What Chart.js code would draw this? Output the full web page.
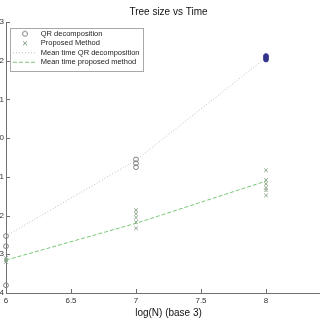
<!DOCTYPE html>
<html>
<head>
<meta charset="utf-8">
<script src="https://cdn.jsdelivr.net/npm/chart.js@4.4.1/dist/chart.umd.min.js"></script>
<style>
  html, body { margin: 0; padding: 0; width: 320px; height: 320px; overflow: hidden; background: #fff; }
  #wrap { position: absolute; left: -40px; top: 0; }
</style>
</head>
<body>
<div id="wrap"><canvas id="chart" width="380" height="320"></canvas></div>
<script>
// Positions sur l'axe x : log(N) en base 3
const treeSizes = [6, 7, 8];

// Mesures individuelles (une valeur x par mesure)
const qrRunX = [6, 6, 6, 7, 7, 7, 8, 8, 8];
const qrRunY = [-2.53, -2.79, -3.8, -0.55, -0.65, -0.75, 2.03, 2.08, 2.12];

const propRunX = [6, 6, 6, 7, 7, 7, 7, 7, 8, 8, 8, 8, 8, 8];
const propRunY = [-3.1, -3.15, -3.2, -1.86, -1.95, -2.05, -2.17, -2.33, -0.83, -1.08, -1.18, -1.28, -1.35, -1.48];

// Temps moyens par taille d'arbre
const meanQR = [-2.53, -0.57, 2.08];
const meanProposed = [-3.15, -2.2, -1.11];

const seriesLabels = [
  "QR decomposition",
  "Proposed Method",
  "Mean time QR decomposition",
  "Mean time proposed method",
];

// Couleurs
const qrColor = "#808080";
const qrLastColor = "#34348c";
const propColor = "#88a088";
const meanQRColor = "#bdbdbd";
const meanPropColor = "#78c878";
const axisColor = "#707070";
const font = "'Liberation Sans', Arial, sans-serif";

const meanQRDash = [1, 2];
const meanPropDash = [4, 2];

const toPoints = (xs, ys) => xs.map((x, i) => ({ x, y: ys[i] }));

// Petites icônes pour la légende (marqueurs centrés sur 24 px)
const makeIcon = (draw) => {
  const c = document.createElement("canvas");
  c.width = 24;
  c.height = 8;
  const g = c.getContext("2d");
  g.lineWidth = 1;
  draw(g);
  return c;
};
const circleIcon = makeIcon((g) => {
  g.strokeStyle = qrColor;
  g.beginPath();
  g.arc(12, 4, 2.5, 0, Math.PI * 2);
  g.stroke();
});
const crossIcon = makeIcon((g) => {
  g.strokeStyle = propColor;
  g.beginPath();
  g.moveTo(10, 2); g.lineTo(14, 6);
  g.moveTo(14, 2); g.lineTo(10, 6);
  g.stroke();
});

// Graduations vers l'intérieur + cadre de la légende
const matlabLook = {
  id: "matlabLook",
  afterLayout(chart) {
    const legend = chart.legend;
    legend.left = chart.chartArea.left + 5;
    legend.top = chart.chartArea.top + 6;
    legend.right = legend.left + legend.width;
    legend.bottom = legend.top + legend.height;
  },
  afterDraw(chart) {
    const { ctx, chartArea, scales } = chart;
    ctx.save();
    ctx.strokeStyle = axisColor;
    ctx.lineWidth = 1;
    ctx.beginPath();
    scales.x.ticks.forEach((t) => {
      const px = Math.round(scales.x.getPixelForValue(t.value)) + 0.5;
      ctx.moveTo(px, chartArea.bottom);
      ctx.lineTo(px, chartArea.bottom - 4);
    });
    scales.y.ticks.forEach((t) => {
      const py = Math.round(scales.y.getPixelForValue(t.value)) + 0.5;
      ctx.moveTo(chartArea.left, py);
      ctx.lineTo(chartArea.left + 4, py);
    });
    ctx.stroke();

    const legend = chart.legend;
    const boxes = legend.legendHitBoxes || [];
    let right = legend.left + 130;
    if (boxes.length) {
      right = Math.max(...boxes.map((b) => b.left + b.width)) + 3;
    }
    const left = legend.left - 1;
    const top = legend.top;
    const bottom = legend.top + 2 + seriesLabels.length * 9.5 + 3;
    ctx.strokeStyle = "#a8a8a8";
    ctx.strokeRect(Math.round(left) + 0.5, Math.round(top) + 0.5, Math.round(right - left), Math.round(bottom - top));
    ctx.restore();
  },
};

new Chart(document.getElementById("chart"), {
  type: "scatter",
  data: {
    datasets: [
      {
        label: seriesLabels[0],
        data: toPoints(qrRunX, qrRunY),
        pointStyle: "circle",
        pointRadius: 2.4,
        borderWidth: 1,
        pointBorderColor: (c) => (c.raw && c.raw.x === 8 ? qrLastColor : qrColor),
        pointBackgroundColor: (c) => (c.raw && c.raw.x === 8 ? qrLastColor : "rgba(0,0,0,0)"),
        clip: false,
      },
      {
        label: seriesLabels[1],
        data: toPoints(propRunX, propRunY),
        pointStyle: "crossRot",
        pointRadius: 2.5,
        borderWidth: 1,
        pointBorderColor: propColor,
        clip: false,
      },
      {
        label: seriesLabels[2],
        data: toPoints(treeSizes, meanQR),
        showLine: true,
        pointRadius: 0,
        pointStyle: "line",
        borderColor: meanQRColor,
        borderWidth: 1,
        borderDash: meanQRDash,
        clip: false,
      },
      {
        label: seriesLabels[3],
        data: toPoints(treeSizes, meanProposed),
        showLine: true,
        pointRadius: 0,
        pointStyle: "line",
        borderColor: meanPropColor,
        borderWidth: 1,
        borderDash: meanPropDash,
        clip: false,
      },
    ],
  },
  options: {
    responsive: false,
    animation: false,
    layout: { padding: { left: 0, right: 9, top: 0, bottom: 0 } },
    plugins: {
      title: {
        display: true,
        text: "Tree size vs Time",
        fullSize: false,
        color: "#111",
        font: { family: font, size: 10, weight: "normal" },
        padding: { top: 6, bottom: 4 },
      },
      legend: {
        position: "chartArea",
        align: "start",
        labels: {
          usePointStyle: true,
          pointStyleWidth: 24,
          padding: 2,
          color: "#222",
          font: { family: font, size: 7.5 },
          generateLabels: (chart) => {
            const items = Chart.defaults.plugins.legend.labels.generateLabels(chart);
            items[0].pointStyle = circleIcon;
            items[1].pointStyle = crossIcon;
            items[2].lineDash = meanQRDash;
            items[2].strokeStyle = meanQRColor;
            items[3].lineDash = meanPropDash;
            items[3].strokeStyle = meanPropColor;
            return items;
          },
        },
      },
      tooltip: { enabled: false },
    },
    scales: {
      x: {
        type: "linear",
        min: 6,
        max: 8.5,
        afterFit: (scale) => { scale.height = 27; },
        grid: { display: false, drawTicks: false },
        border: { display: true, color: axisColor, width: 1 },
        ticks: {
          stepSize: 0.5,
          padding: 3,
          color: "#333",
          font: { family: font, size: 8 },
          maxRotation: 0,
          callback: (value) => String(value),
        },
        title: {
          display: true,
          text: "log(N) (base 3)",
          color: "#111",
          font: { family: font, size: 10 },
          padding: { top: 0, bottom: 1 },
        },
      },
      y: {
        type: "linear",
        min: -4,
        max: 3,
        afterFit: (scale) => { scale.width = 46; },
        grid: { display: false, drawTicks: false },
        border: { display: true, color: axisColor, width: 1 },
        ticks: {
          stepSize: 1,
          padding: 2,
          color: "#333",
          font: { family: font, size: 8 },
        },
      },
    },
  },
  plugins: [matlabLook],
});
</script>
</body>
</html>
